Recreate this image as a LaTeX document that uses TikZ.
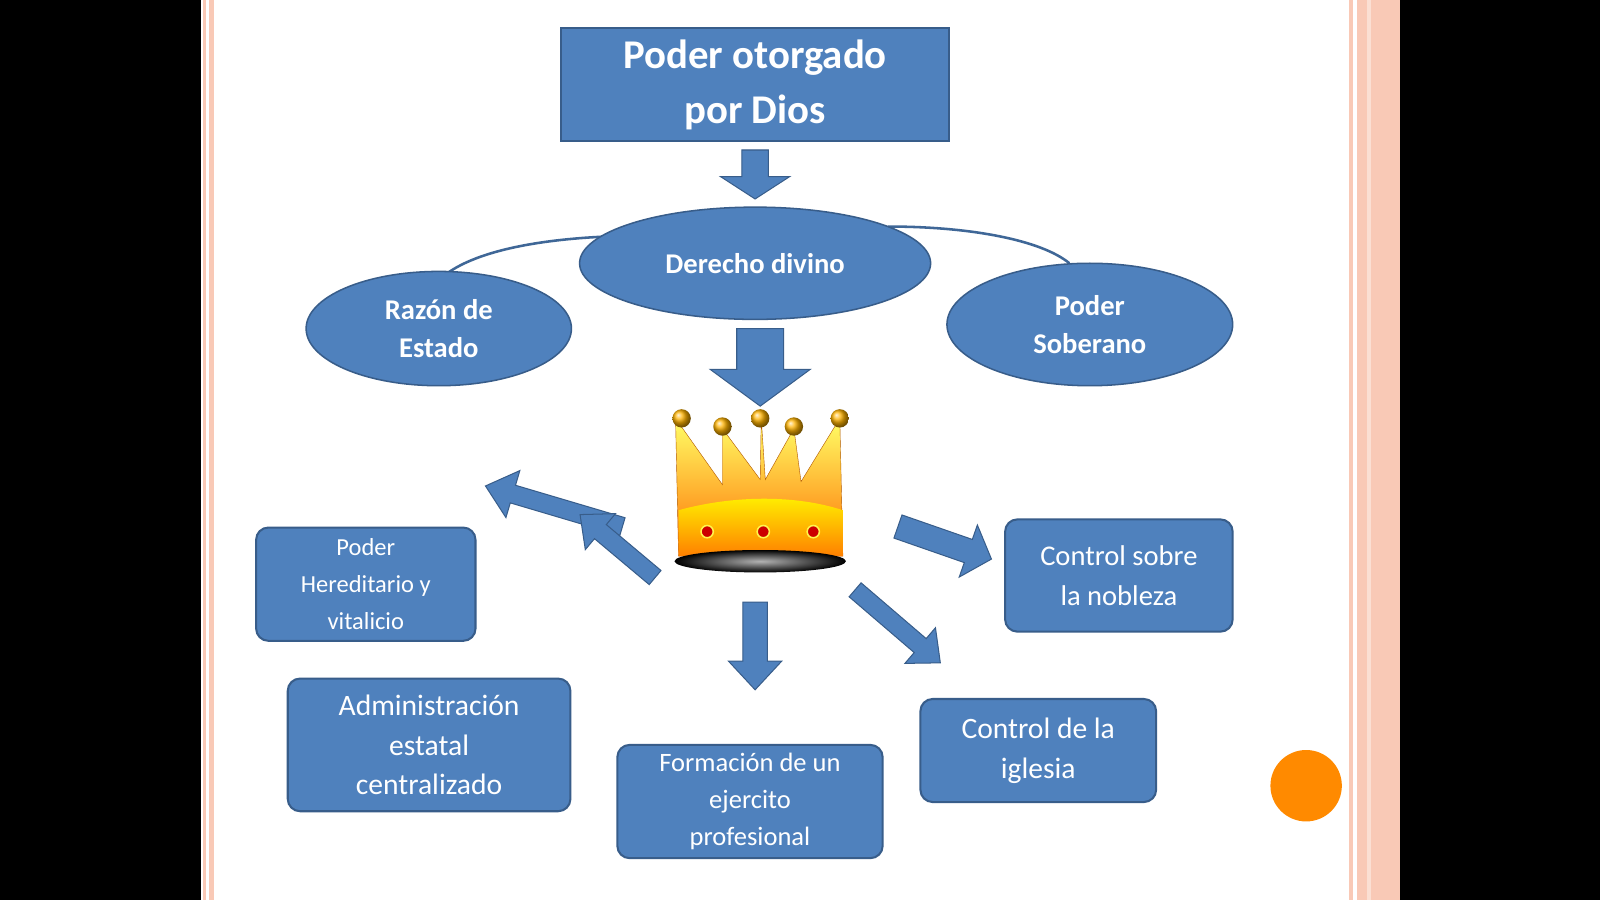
\documentclass[tikz,border=0pt]{standalone}
\usepackage{fontspec}
\setmainfont{Carlito}
\usetikzlibrary{shapes.geometric}
\definecolor{bfill}{HTML}{4F81BD}
\definecolor{bline}{HTML}{385D8A}
\definecolor{pinkb}{HTML}{F9C9B6}
\tikzset{
 box/.style={draw=bline,line width=2pt,fill=bfill,text=white,rounded corners=12pt,align=center,inner sep=0pt},
 ell/.style={ellipse,draw=bline,line width=1.5pt,fill=bfill,text=white,align=center,font=\bfseries\fontsize{28}{38}\selectfont,inner sep=0pt},
 barrow/.style={fill=bfill,draw=bline,line width=1pt},
 conn/.style={draw=bfill!80!black,line width=2.5pt}
}
% \blockarrow{x}{y}{angle}{length}{shaft half}{head half}{head length}
\newcommand{\blockarrow}[7]{%
 \begin{scope}[shift={(#1,#2)},rotate=#3]
 \path[barrow] (0,-#5)--(#4-#7,-#5)--(#4-#7,-#6)--(#4,0)--(#4-#7,#6)--(#4-#7,#5)--(0,#5)--cycle;
 \end{scope}}
\begin{document}
\begin{tikzpicture}[x=1pt,y=-1pt]
\useasboundingbox (0,0) rectangle (1568,882);
\fill[black] (0,0) rectangle (1568,882);
\fill[white] (197,0) rectangle (1372,882);
\fill[pinkb] (199,0) rectangle (202,882);
\fill[pinkb] (205,0) rectangle (210,882);
\fill[pinkb] (1322,0) rectangle (1326,882);
\fill[pinkb] (1330,0) rectangle (1372,882);
\fill[pinkb!60] (1340,0) rectangle (1344,882);

\node[box,rounded corners=0pt,minimum width=380pt,minimum height=111pt,font=\bfseries\fontsize{40}{54}\selectfont] (top) at (740,83) {Poder otorgado\\por Dios};
\blockarrow{740}{147}{-90}{48}{13}{34}{22}

\draw[conn] (438,268) .. controls (470,245) and (530,235) .. (590,232);
\draw[conn] (870,222) .. controls (950,222) and (1020,235) .. (1048,258);

\node[ell,minimum width=344pt,minimum height=110pt] (der) at (740,258) {Derecho divino};
\node[ell,minimum width=260pt,minimum height=112pt] (raz) at (430,322) {Razón de\\Estado};
\node[ell,minimum width=280pt,minimum height=120pt] (sob) at (1068,318) {Poder\\Soberano};

\blockarrow{745}{322}{-90}{76}{23}{49}{36}

% crown
\shade[top color=yellow!60!white,bottom color=orange!85!red,draw=orange!70!black]
 (662,410)--(708,475)--(708,420)--(745,470)--(746,410)--(750,470)--(778,420)--(785,472)--(823,410)
 --(826,545)--(665,545)--cycle;
\shade[top color=yellow!90!orange,bottom color=orange] (665,500) .. controls (720,485) and (780,485) .. (826,500)--(826,545)--(665,545)--cycle;
\shade[inner color=gray!60,outer color=black] (745,550) ellipse (84pt and 11pt);
\foreach \x/\y in {668/410,708/418,745/410,778/418,823/410}
 \shade[ball color=orange!60!yellow] (\x,\y) circle (9pt);
\foreach \x in {693,748,797}
 \fill[red!80!black,draw=yellow!70!white,line width=1.5pt] (\x,521) circle (6pt);

\blockarrow{610}{516}{163.5}{140}{9}{24}{28}
\blockarrow{642}{566}{140}{96}{9}{23}{26}
\blockarrow{740}{590}{-90}{86}{12}{26}{28}
\blockarrow{838}{578}{-40.6}{110}{9}{23}{26}
\blockarrow{880}{516}{-19.2}{97}{12}{27}{24}

\node[box,minimum width=215pt,minimum height=111pt,font=\fontsize{24}{36}\selectfont] (her) at (358.5,572.5) {Poder\\Hereditario y\\vitalicio};
\node[box,minimum width=223pt,minimum height=110pt,font=\fontsize{28}{39}\selectfont] (nob) at (1096.5,564) {Control sobre\\la nobleza};
\node[box,minimum width=277pt,minimum height=130pt,font=\fontsize{29}{39}\selectfont] (adm) at (420.5,730) {Administración\\estatal\\centralizado};
\node[box,minimum width=260pt,minimum height=111pt,font=\fontsize{26}{36}\selectfont] (for) at (735,785.5) {Formación de un\\ejercito\\profesional};
\node[box,minimum width=231pt,minimum height=101pt,font=\fontsize{29}{39}\selectfont] (igl) at (1017.5,735.5) {Control de la\\iglesia};

\fill[orange!80!yellow!90!red] (1280,770) circle (35pt);
\end{tikzpicture}
\end{document}
